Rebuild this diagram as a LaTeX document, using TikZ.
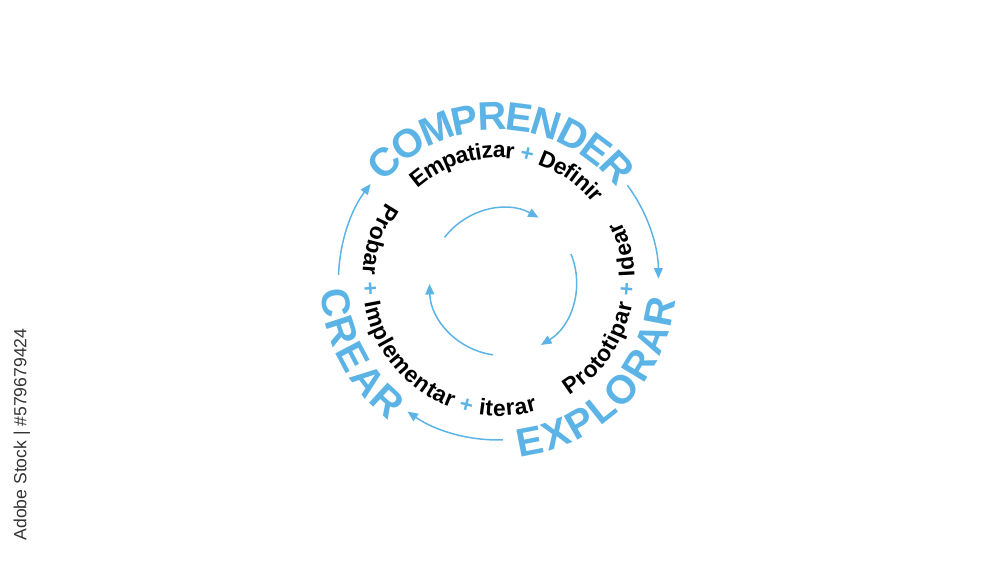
\documentclass[tikz,border=0pt]{standalone}
\usepackage{fontspec}
\setmainfont{Liberation Sans}
\usetikzlibrary{arrows.meta,decorations.text}
\definecolor{skyb}{RGB}{92,180,230}
\newcommand{\bigword}{\fontsize{22.7}{27}\selectfont\bfseries\color{skyb}}
\newcommand{\smallword}{\fontsize{13}{15}\selectfont\bfseries\color{black}}
\newcommand{\plussign}{\fontsize{13}{15}\selectfont\bfseries\color{skyb}}

\begin{document}
\begin{tikzpicture}[
  cycle arrow/.style={draw=skyb, line width=0.85pt, -{Triangle[length=6pt,width=5pt]}},
  big text/.style={decorate, decoration={text along path, text align=center, raise=-8.1pt, text={|\bigword|#1}}},
  small text/.style={decorate, decoration={text along path, text align=center, raise=-4pt, text={#1}}}
]
  \useasboundingbox (-9.97,-5.64) rectangle (10.03,5.6);
  \coordinate (c) at (0,0);
  \coordinate (ic) at (0.09,-0.04);

  % outer words
  \path[big text=COMPRENDER] ([shift={(148.8:3.28)}]c) arc[start angle=148.8, end angle=28.8, radius=3.28];
  \path[big text=EXPLORAR] ([shift={(-89.8:3.28)}]c) arc[start angle=-89.8, end angle=0.2, radius=3.28];
  \path[big text=CREAR] ([shift={(172.8:3.28)}]c) arc[start angle=172.8, end angle=242.8, radius=3.28];

  % inner words
  \path[small text={|\smallword|Empatizar |\plussign|+|\smallword| Definir}]
    ([shift={(140.3:2.58)}]c) arc[start angle=140.3, end angle=30.3, radius=2.58];
  \path[small text={|\smallword|Prototipar |\plussign|+|\smallword| Idear}]
    ([shift={(-66.4:2.58)}]c) arc[start angle=-66.4, end angle=33.6, radius=2.58];
  \path[small text={|\smallword|Probar |\plussign|+|\smallword| Implementar |\plussign|+|\smallword| iterar}]
    ([shift={(136:2.58)}]c) arc[start angle=136, end angle=296, radius=2.58];

  % outer cycle
  \draw[cycle arrow] ([shift={(178.2:3.2)}]c) arc[start angle=178.2, end angle=143.1, radius=3.2];
  \draw[cycle arrow] ([shift={(36.3:3.2)}]c) arc[start angle=36.3, end angle=0.5, radius=3.2];
  \draw[cycle arrow] ([shift={(-88.4:3.2)}]c) arc[start angle=-88.4, end angle=-124.7, radius=3.2];

  % inner cycle
  \draw[cycle arrow] ([shift={(142.7:1.47)}]ic) arc[start angle=142.7, end angle=61, radius=1.47];
  \draw[cycle arrow] ([shift={(22.4:1.47)}]ic) arc[start angle=22.4, end angle=-58.9, radius=1.47];
  \draw[cycle arrow] ([shift={(262.2:1.47)}]ic) arc[start angle=262.2, end angle=181.5, radius=1.47];

  \node[rotate=90, font=\fontsize{10}{12}\selectfont, text=black!80] (stockid) at (-9.53,-3.09) {Adobe Stock | \#579679424};
\end{tikzpicture}
\end{document}
